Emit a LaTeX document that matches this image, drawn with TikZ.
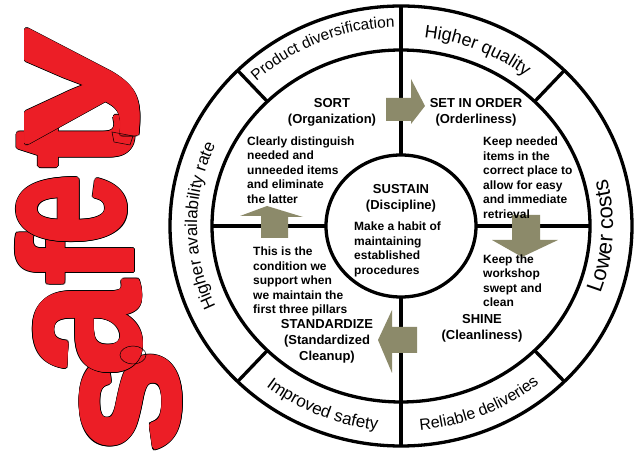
\documentclass[tikz,border=0pt]{standalone}
\usepackage{fontspec}
\setmainfont{Liberation Sans}
\usepackage{graphicx}
\usetikzlibrary{calc,decorations.text}
\definecolor{arrowol}{RGB}{140,138,106}
\definecolor{safred}{RGB}{236,30,38}
\newcommand{\sfletter}[6]{%
  \foreach \ang in {0,22.5,...,337.5}
    {\node[rotate=90,inner sep=0,text=black] at ($(#2,#3)+(\ang:2.7pt)$) {\resizebox*{#4pt}{#5pt}{\bfseries #6}};}
  \foreach \ang in {0,22.5,...,337.5}
    {\node[rotate=90,inner sep=0,text=safred] at ($(#2,#3)+(\ang:1.9pt)$) {\resizebox*{#4pt}{#5pt}{\bfseries #6}};}
  \node[rotate=90,inner sep=0,text=safred] (#1) at (#2,#3) {\resizebox*{#4pt}{#5pt}{\bfseries #6}};
}
\newcommand{\ringtext}[6]{%
  \path[decorate,decoration={text along path,text align=center,
    text={|\fontsize{#5}{#5}\selectfont|#6}}]
    ($(C)+(#1:#3pt and #4pt)$) arc[start angle=#1,end angle=#2,x radius=#3pt,y radius=#4pt];
}
\begin{document}
\begin{tikzpicture}[x=1pt,y=1pt,
  ring/.style={line width=3.3pt},
  ttl/.style={font=\fontsize{13}{16}\selectfont\bfseries,align=center,inner sep=0},
  dsc/.style={font=\fontsize{12}{14.5}\selectfont\bfseries,align=left,inner sep=0,anchor=west},
  blk/.style={fill=arrowol,draw=none}]
\fill[white] (0,0) rectangle (640,460);
\useasboundingbox (0,0) rectangle (640,460);
\coordinate (C) at (401,234);
% circles
\draw[ring] (C) ellipse[x radius=231pt,y radius=220pt];
\draw[ring] (C) ellipse[x radius=189pt,y radius=176pt];
\draw[ring] (C) ellipse[x radius=75pt,y radius=71pt];
\foreach \a in {45,90,135,225,270,315}
  \draw[ring] ($(C)+(\a:189pt and 176pt)$) -- ($(C)+(\a:231pt and 220pt)$);
\foreach \a in {0,90,180,270}
  \draw[ring] ($(C)+(\a:75pt and 71pt)$) -- ($(C)+(\a:189pt and 176pt)$);
% arrows
\fill[blk] (386,362) -- (411,362) -- (411,381) -- (425,354) -- (411,336) -- (411,339) -- (386,339) -- cycle;
\fill[blk] (512,245) -- (540,245) -- (540,220) -- (558,220) -- (522,203) -- (492,220) -- (512,220) -- cycle;
\fill[blk] (417,133) -- (392,133) -- (392,150) -- (378,120) -- (392,87) -- (392,107) -- (417,107) -- cycle;
\fill[blk] (261,222) -- (261,244) -- (240,244) -- (267,254) -- (303,243) -- (288,243) -- (288,222) -- cycle;
% inner texts
\node[ttl] (sort) at (332,348) {SORT\\(Organization)};
\node[ttl] (setin) at (476,348) {SET IN ORDER\\(Orderliness)};
\node[ttl] (shine) at (482,132) {SHINE\\(Cleanliness)};
\node[ttl] (stand) at (327,118.5) {STANDARDIZE\\(Standardized\\Cleanup)};
\node[ttl] (sust) at (401,262) {SUSTAIN\\(Discipline)};
\node[dsc] (sortd) at (247,290) {Clearly distinguish\\needed and\\unneeded items\\and eliminate\\the latter};
\node[dsc] (setd) at (483,282.5) {Keep needed\\items in the\\correct place to\\allow for easy\\and immediate\\retrieval};
\node[dsc] (shined) at (483,179.5) {Keep the\\workshop\\swept and\\clean};
\node[dsc] (standd) at (253,178.5) {This is the\\condition we\\support when\\we maintain the\\first three pillars};
\node[dsc] (sustd) at (354,210.5) {Make a habit of\\maintaining\\established\\procedures};
% ring texts
\ringtext{135}{90}{211}{199}{15.5}{Product diversification}
\ringtext{90}{45}{201}{190}{18}{Higher quality}
\ringtext{-50}{44}{212}{200}{22}{Lower costs}
\ringtext{225}{135}{204}{193}{17}{Higher availability rate}
\ringtext{225}{270}{216}{205}{17}{Improved safety}
\ringtext{270}{315}{216}{205}{16}{Reliable deliveries}
% safety letters
\sfletter{ls}{131}{58}{105}{99}{s}
\sfletter{la}{88}{131}{94}{106}{a}
\sfletter{lf}{75}{200}{50}{116}{f}
\sfletter{le}{72}{250}{70}{107}{e}
\sfletter{lt}{76}{318.5}{53}{114}{t}
\sfletter{ly}{82.5}{373}{116}{111}{y}
\draw[line width=0.5pt] (112,328) -- (133,324) -- (130,315) -- (114,318) -- cycle;
\draw[line width=0.5pt] (133,105) ellipse[x radius=13pt,y radius=9pt];
\end{tikzpicture}
\end{document}
